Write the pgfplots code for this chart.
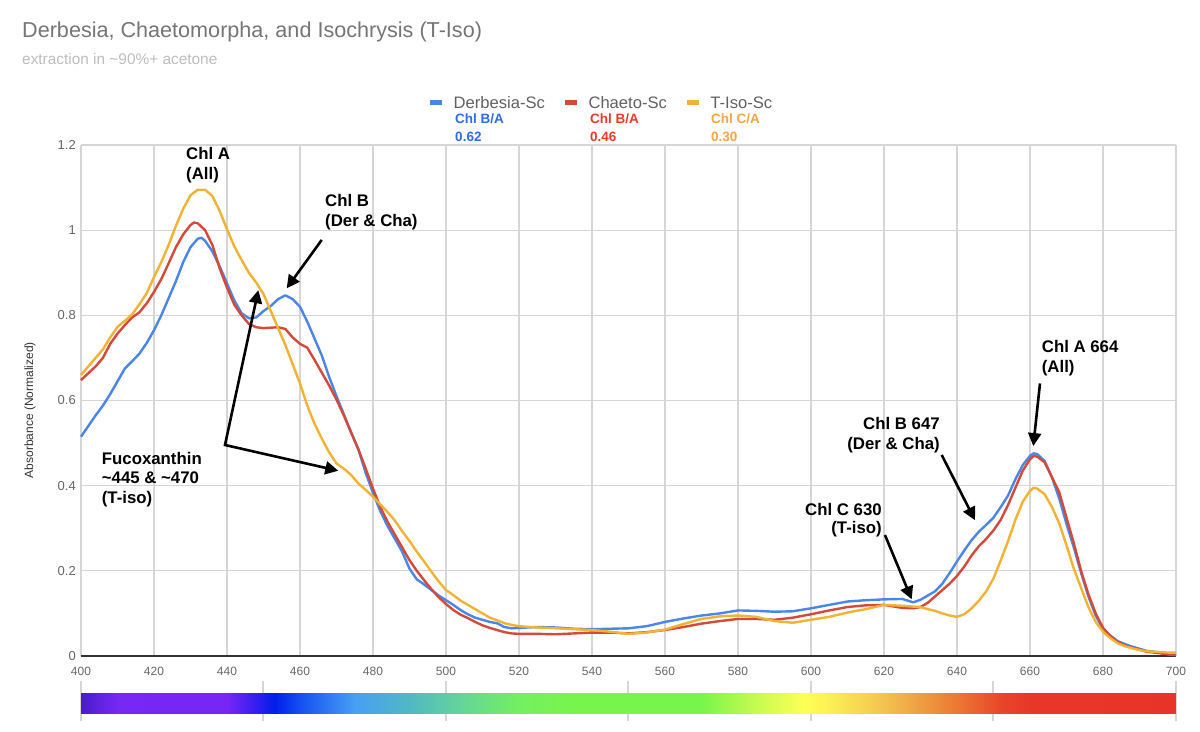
\documentclass[border=0pt]{standalone}
\usepackage{fontspec}
\setmainfont{Liberation Sans}
\usepackage{pgfplots}
\pgfplotsset{compat=1.18}
\usepackage{pgfplotstable}
\usetikzlibrary{arrows.meta}

\definecolor{derb}{HTML}{4A86E8}
\definecolor{chaeto}{HTML}{D44A3A}
\definecolor{tiso}{HTML}{F2B233}
\definecolor{gridgray}{HTML}{D6D6D6}
\definecolor{ticktext}{HTML}{666666}
\definecolor{titlegray}{HTML}{757575}
\definecolor{subgray}{HTML}{BDBDBD}
\definecolor{ratioblue}{HTML}{2D6CF0}
\definecolor{ratiored}{HTML}{EA3A2A}
\definecolor{ratioorange}{HTML}{F4A640}

% visible spectrum strip (stops at 25bp + (nm-400)/6)
\definecolor{sA}{RGB}{72,28,205}
\definecolor{sB}{RGB}{120,40,245}
\definecolor{sC}{RGB}{118,38,245}
\definecolor{sD}{RGB}{60,30,240}
\definecolor{sE}{RGB}{0,30,235}
\definecolor{sF}{RGB}{20,80,240}
\definecolor{sG}{RGB}{70,160,245}
\definecolor{sH}{RGB}{80,185,195}
\definecolor{sI}{RGB}{100,215,150}
\definecolor{sJ}{RGB}{115,240,95}
\definecolor{sK}{RGB}{120,245,75}
\definecolor{sL}{RGB}{200,250,80}
\definecolor{sM}{RGB}{255,255,85}
\definecolor{sN}{RGB}{252,240,85}
\definecolor{sO}{RGB}{243,195,80}
\definecolor{sP}{RGB}{235,120,50}
\definecolor{sQ}{RGB}{232,70,42}
\definecolor{sR}{RGB}{232,55,40}
\definecolor{sS}{RGB}{232,52,40}
\pgfdeclarehorizontalshading{spectrum}{100bp}{
  color(0bp)=(sA); color(25bp)=(sA); color(26.667bp)=(sB); color(31.667bp)=(sC);
  color(32.833bp)=(sD); color(33.833bp)=(sE); color(35bp)=(sF); color(37.5bp)=(sG);
  color(40bp)=(sH); color(42.5bp)=(sI); color(45bp)=(sJ); color(47.5bp)=(sK);
  color(53.333bp)=(sK); color(55.833bp)=(sL); color(58bp)=(sM); color(59.167bp)=(sN);
  color(61.667bp)=(sO); color(65bp)=(sP); color(67bp)=(sQ); color(68.333bp)=(sR);
  color(75bp)=(sS); color(100bp)=(sS)}

\pgfplotstableread{
nm a
400 0.515
402 0.540
404 0.565
406 0.588
408 0.615
410 0.645
412 0.675
414 0.692
416 0.710
418 0.735
420 0.765
422 0.800
424 0.840
426 0.880
428 0.925
430 0.960
432 0.980
433 0.982
434 0.975
436 0.950
438 0.915
440 0.875
442 0.835
444 0.805
446 0.793
448 0.795
450 0.810
452 0.822
454 0.838
456 0.847
458 0.838
460 0.820
462 0.785
464 0.745
466 0.705
468 0.655
470 0.610
472 0.568
474 0.525
476 0.485
478 0.430
480 0.383
482 0.340
484 0.305
486 0.275
488 0.245
490 0.205
492 0.180
494 0.168
496 0.155
498 0.142
500 0.131
502 0.120
504 0.108
506 0.098
508 0.090
510 0.085
512 0.080
514 0.077
516 0.068
518 0.065
520 0.066
525 0.068
530 0.067
535 0.064
540 0.063
545 0.064
550 0.065
555 0.070
560 0.080
565 0.088
570 0.095
575 0.100
580 0.107
585 0.106
590 0.104
595 0.105
600 0.112
605 0.120
610 0.128
615 0.131
620 0.133
625 0.134
628 0.126
630 0.132
632 0.142
634 0.152
636 0.170
638 0.195
640 0.222
642 0.248
644 0.272
646 0.292
648 0.308
650 0.325
652 0.350
654 0.377
656 0.415
658 0.448
660 0.470
661 0.476
662 0.474
664 0.458
666 0.420
668 0.370
670 0.310
672 0.255
674 0.195
676 0.140
678 0.095
680 0.063
682 0.048
684 0.035
686 0.028
688 0.022
690 0.017
692 0.012
694 0.010
696 0.007
698 0.004
700 0.002
}\derbesia

\pgfplotstableread{
nm a
400 0.648
402 0.664
404 0.680
406 0.700
408 0.733
410 0.757
412 0.777
414 0.795
416 0.807
418 0.828
420 0.855
422 0.885
424 0.922
426 0.960
428 0.990
430 1.012
431 1.018
432 1.016
434 1.000
436 0.965
438 0.910
440 0.865
442 0.825
444 0.800
446 0.780
448 0.772
450 0.770
452 0.771
454 0.772
456 0.768
458 0.748
460 0.733
462 0.724
464 0.695
466 0.665
468 0.635
470 0.602
472 0.565
474 0.525
476 0.485
478 0.440
480 0.393
482 0.350
484 0.315
486 0.285
488 0.255
490 0.225
492 0.200
494 0.178
496 0.157
498 0.138
500 0.122
502 0.108
504 0.097
506 0.089
508 0.080
510 0.072
512 0.066
514 0.061
516 0.056
518 0.053
520 0.052
525 0.052
530 0.051
535 0.053
540 0.055
545 0.055
550 0.053
555 0.056
560 0.061
565 0.068
570 0.076
575 0.082
580 0.087
585 0.087
590 0.085
595 0.090
600 0.098
605 0.107
610 0.115
615 0.119
620 0.120
625 0.113
628 0.112
630 0.115
632 0.125
634 0.140
636 0.155
638 0.170
640 0.188
642 0.210
644 0.236
646 0.258
648 0.275
650 0.295
652 0.320
654 0.355
656 0.395
658 0.435
660 0.462
661 0.470
662 0.468
664 0.455
666 0.420
668 0.385
670 0.325
672 0.265
674 0.200
676 0.145
678 0.100
680 0.066
682 0.047
684 0.033
686 0.025
688 0.019
690 0.015
692 0.010
694 0.008
696 0.006
698 0.004
700 0.003
}\chaeto

\pgfplotstableread{
nm a
400 0.660
402 0.680
404 0.700
406 0.720
408 0.748
410 0.773
412 0.787
414 0.802
416 0.826
418 0.852
420 0.890
422 0.925
424 0.965
426 1.010
428 1.050
430 1.082
432 1.095
434 1.095
436 1.080
438 1.045
440 1.002
442 0.962
444 0.930
446 0.900
448 0.877
450 0.850
452 0.810
454 0.770
456 0.730
458 0.685
460 0.640
462 0.588
464 0.545
466 0.510
468 0.478
470 0.452
472 0.440
474 0.425
476 0.405
478 0.390
480 0.374
482 0.356
484 0.338
486 0.318
488 0.293
490 0.270
492 0.245
494 0.222
496 0.198
498 0.175
500 0.155
502 0.143
504 0.130
506 0.120
508 0.110
510 0.100
512 0.090
514 0.084
516 0.077
518 0.073
520 0.070
525 0.067
530 0.065
535 0.063
540 0.061
545 0.057
550 0.052
555 0.055
560 0.062
565 0.075
570 0.087
575 0.093
580 0.095
585 0.092
590 0.082
595 0.078
600 0.085
605 0.092
610 0.102
615 0.110
620 0.120
625 0.118
628 0.116
630 0.115
632 0.110
634 0.106
636 0.100
638 0.095
640 0.092
642 0.098
644 0.112
646 0.130
648 0.152
650 0.182
652 0.225
654 0.270
656 0.320
658 0.362
660 0.388
661 0.395
662 0.393
664 0.380
666 0.350
668 0.312
670 0.260
672 0.205
674 0.160
676 0.115
678 0.080
680 0.057
682 0.042
684 0.030
686 0.023
688 0.018
690 0.014
692 0.011
694 0.010
696 0.009
698 0.008
700 0.008
}\tiso

\begin{document}
\begin{tikzpicture}
\path[use as bounding box] (0bp,0bp) rectangle (1200bp,732bp);

\node[anchor=base west, inner sep=0pt, text=titlegray, font=\fontsize{21.6bp}{26bp}\selectfont]
  at (22bp,694bp) {Derbesia, Chaetomorpha, and Isochrysis (T-Iso)};
\node[anchor=base west, inner sep=0pt, text=subgray, font=\fontsize{15.4bp}{18bp}\selectfont]
  at (22bp,667bp) {extraction in \textasciitilde90\%+ acetone};

\begin{axis}[
  at={(81bp,76bp)}, anchor=south west,
  scale only axis, width=1095bp, height=511bp,
  xmin=400, xmax=700, ymin=0, ymax=1.2,
  clip=false,
  xtick={400,420,...,700},
  ytick={0,0.2,0.4,0.6,0.8,1,1.2},
  yticklabels={0,0.2,0.4,0.6,0.8,1,1.2},
  grid=major,
  major grid style={gridgray, line width=1.2bp},
  axis line style={draw=none},
  major tick length=0pt,
  /pgf/number format/assume math mode=true,
  xticklabel style={anchor=north, inner sep=0pt, yshift=-11bp, text=ticktext,
    font=\fontsize{12bp}{14bp}\selectfont},
  yticklabel style={anchor=east, inner sep=0pt, xshift=-5bp, text=ticktext,
    font=\fontsize{13bp}{15bp}\selectfont},
  ylabel={Absorbance (Normalized)},
  ylabel style={at={(axis description cs:-0.0466,0.4814)}, anchor=center,
    text=black!80, font=\fontsize{12bp}{14bp}\selectfont},
  legend columns=3,
  legend style={at={(axis description cs:0.3169,1.0822)}, anchor=west,
    draw=none, fill=none, inner sep=0pt,
    font=\fontsize{16.6bp}{19bp}\selectfont, text=black!62,
    nodes={inner sep=0pt},
    /tikz/every odd column/.append style={column sep=9bp},
    /tikz/every even column/.append style={column sep=18bp}},
  legend cell align=left,
  legend image code/.code={\draw[line width=4.5bp] (0bp,0.5bp) -- (12bp,0.5bp);},
]
% baseline at zero
\draw[black!80, line width=1.6bp] (axis cs:400,0) -- (axis cs:700,0);

\addplot[derb, line width=2.4bp, line join=round] table[x=nm, y=a] {\derbesia};
\addlegendentry{Derbesia-Sc}
\addplot[chaeto, line width=2.4bp, line join=round] table[x=nm, y=a] {\chaeto};
\addlegendentry{Chaeto-Sc}
\addplot[tiso, line width=2.4bp, line join=round] table[x=nm, y=a] {\tiso};
\addlegendentry{T-Iso-Sc}

% pigment ratios under the legend
\begin{scope}[every node/.style={anchor=base west, inner sep=0pt,
    font=\fontsize{13.5bp}{16bp}\selectfont\bfseries}]
\node[text=ratioblue]   at (axis description cs:0.3416,1.0411) {Chl B/A};
\node[text=ratioblue]   at (axis description cs:0.3416,1.0078) {0.62};
\node[text=ratiored]    at (axis description cs:0.4648,1.0411) {Chl B/A};
\node[text=ratiored]    at (axis description cs:0.4648,1.0078) {0.46};
\node[text=ratioorange] at (axis description cs:0.5753,1.0411) {Chl C/A};
\node[text=ratioorange] at (axis description cs:0.5753,1.0078) {0.30};
\end{scope}

% spectrum strip with its scale marks
\pgfplotsinvokeforeach{400,450,500,550,600,650,700}{
  \draw[gridgray, line width=2bp] (axis cs:#1,-0.0587) -- (axis cs:#1,-0.1526);
}
\shade[shading=spectrum] (axis cs:400,-0.0892) rectangle (axis cs:700,-0.1362);

% peak annotations
\begin{scope}[every node/.style={inner sep=0pt,
    font=\fontsize{16.8bp}{20bp}\selectfont\bfseries}]
\node[anchor=base west] at (axis cs:428.77,1.1648) {Chl A};
\node[anchor=base west] at (axis cs:428.77,1.1178) {(All)};
\node[anchor=base west] at (axis cs:466.85,1.0551) {Chl B};
\node[anchor=base west] at (axis cs:466.85,1.0082) {(Der \& Cha)};
\node[anchor=base west] at (axis cs:405.67,0.4502) {Fucoxanthin};
\node[anchor=base west] at (axis cs:405.67,0.4056) {\textasciitilde445 \& \textasciitilde470};
\node[anchor=base west] at (axis cs:405.67,0.3586) {(T-iso)};
\node[anchor=base east] at (axis cs:619.45,0.3311) {Chl C 630};
\node[anchor=base east] at (axis cs:619.45,0.2865) {(T-iso)};
\node[anchor=base east] at (axis cs:635.34,0.5324) {Chl B 647};
\node[anchor=base east] at (axis cs:635.34,0.4861) {(Der \& Cha)};
\node[anchor=base west] at (axis cs:663.20,0.7132) {Chl A 664};
\node[anchor=base west] at (axis cs:663.20,0.6646) {(All)};
\end{scope}

\begin{scope}[line width=2.6bp, -{Triangle[length=13bp,width=13bp]}]
\draw (axis cs:465.95,0.977) -- (axis cs:456.36,0.8635);
\draw[{Triangle[length=13bp,width=13bp]}-{Triangle[length=13bp,width=13bp]}, line join=miter]
  (axis cs:448.58,0.859) -- (axis cs:439.45,0.4955) -- (axis cs:470.49,0.435);
\draw (axis cs:620.27,0.284) -- (axis cs:627.59,0.133);
\draw (axis cs:635.81,0.472) -- (axis cs:644.93,0.319);
\draw (axis cs:662.74,0.640) -- (axis cs:660.90,0.493);
\end{scope}
\end{axis}
\end{tikzpicture}
\end{document}
